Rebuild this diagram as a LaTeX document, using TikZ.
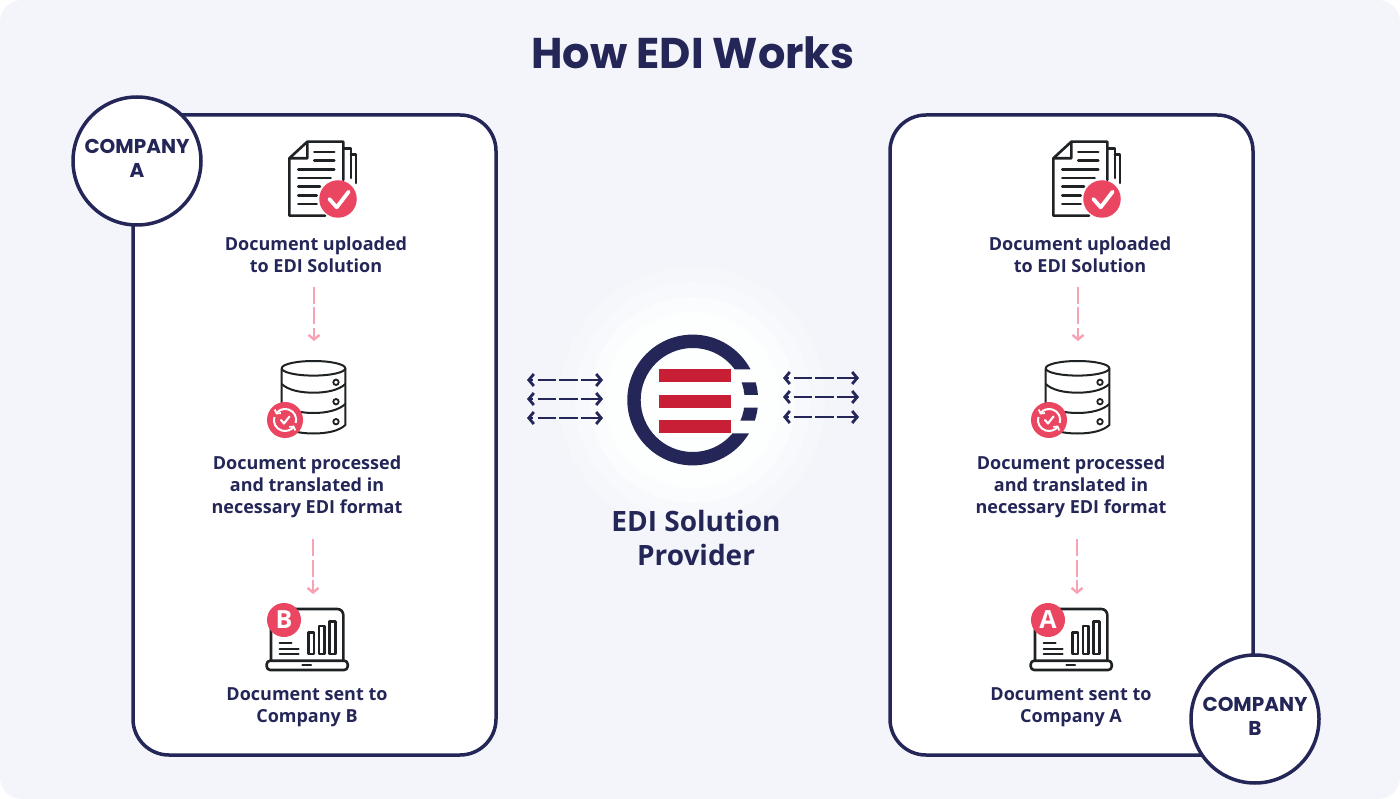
\documentclass[tikz,border=0pt]{standalone}
\usepackage{fontspec}
\setmainfont{Open Sans}
\newfontfamily\titlefont{Poppins}
\usetikzlibrary{arrows.meta}
\definecolor{navy}{HTML}{232657}
\definecolor{ink}{HTML}{1F2224}
\definecolor{badge}{HTML}{EB4661}
\definecolor{pinkline}{HTML}{F7A3B3}
\definecolor{barred}{HTML}{C91F36}
\definecolor{pagebg}{HTML}{F4F5FA}
\tikzset{
  x=1pt,y=-1pt,
  card/.style={draw=navy,line width=3.5pt,fill=white,rounded corners=36pt},
  companycircle/.style={circle,draw=navy,line width=3.5pt,fill=white,minimum size=128pt,inner sep=0pt,align=center,text=navy,font=\titlefont\bfseries\fontsize{20}{24}\selectfont},
  steplabel/.style={align=center,text=navy,font=\bfseries\fontsize{18}{22}\selectfont,inner sep=0pt},
  flowarrow/.style={draw=pinkline,line width=2.4pt,dash pattern=on 17pt off 3.5pt,-{Straight Barb[length=4.5pt,width=11pt,line width=2.4pt]}},
  linkarrow/.style={draw=navy,line width=2.8pt,dash pattern=on 3pt off 4.5pt on 18.5pt off 3pt on 18.5pt off 3pt on 40pt off 0pt,{Straight Barb[length=5pt,width=12pt,line width=2.8pt]}-{Straight Barb[length=5pt,width=12pt,line width=2.8pt]}},
  iconline/.style={draw=ink,line width=2.6pt,line cap=round,line join=round},
  badgedisc/.style={circle,fill=badge,inner sep=0pt},
}
\newcommand{\cardbody}[3]{%
 % document icon
 \draw[iconline] (329.3,148.3)--(351,148.3)--(351,178);
 \draw[iconline] (351,154.3)--(356,154.3)--(356,183);
 \draw[iconline,fill=white] (307.3,141.7)--(343.3,141.7)--(343.3,180)  (325,215.7)--(289.3,215.7)--(289.3,158.3)--(307.3,141.7)--(307.3,158.3)--(289.3,158.3);
 \draw[iconline] (314.3,152)--(334.3,152) (314.3,160.7)--(334.3,160.7) (298.3,169.3)--(334.3,169.3) (298.3,178)--(330.7,178) (298.3,186.7)--(320,186.7) (298.3,195.3)--(316.7,195.3) (298.3,204)--(316.7,204);
 \node[badgedisc,minimum size=37.5pt] (#1docbadge) at (338,199) {};
 \draw[white,line width=3.8pt,line cap=round,line join=round] (329.3,199)--(336.7,207.3)--(348.7,191.7);
 \node[steplabel] (#1up) at (316,254.5) {Document uploaded\\to EDI Solution};
 % database icon
 \draw[ink,line width=2pt] (281.7,368.3) arc[x radius=31.8,y radius=-7.3,start angle=180,end angle=-180];
 \draw[ink,line width=2pt] (281.7,368.3)--(281.7,425) .. controls (288,431) and (300,433.5) .. (313.5,433.5) .. controls (327,433.5) and (339,431) .. (345.3,425)--(345.3,368.3);
 \draw[ink,line width=2pt] (281.7,384) .. controls (288,390) and (300,392.7) .. (313.5,392.7) .. controls (327,392.7) and (339,390) .. (345.3,384);
 \draw[ink,line width=2pt] (281.7,404) .. controls (288,410) and (300,413) .. (313.5,413) .. controls (327,413) and (339,410) .. (345.3,404);
 \foreach \yy in {382.3,401.7,421.7} \draw[ink,line width=1.8pt] (336,\yy) circle[radius=2.7pt];
 \node[badgedisc,minimum size=36pt] (#1dbbadge) at (285,420) {};
 \draw[white,line width=2pt,-{Straight Barb[length=2.5pt,width=7pt,line width=1.8pt]}] (274.4,417) arc[radius=10.8pt,start angle=-197,end angle=-30];
 \draw[white,line width=2pt,-{Straight Barb[length=2.5pt,width=7pt,line width=1.8pt]}] (295.7,423) arc[radius=10.8pt,start angle=-17,end angle=150];
 \draw[white,line width=2.1pt,line cap=round,line join=round] (281,420)--(284,423.5)--(289.5,416.5);
 \node[steplabel] (#1proc) at (307,487) {Document processed\\and translated in\\necessary EDI format};
 % laptop icon
 \draw[iconline,rounded corners=6pt] (271,660.7)--(271,609)--(343.3,609)--(343.3,660.7);
 \draw[iconline,rounded corners=3.5pt] (266.7,660.7)--(347.7,660.7)--(347.7,670)--(266.7,670)--cycle;
 \draw[iconline,line width=2.2pt] (302.5,665)--(311,665);
 \draw[iconline] (308.3,632.3) rectangle (314,654) (319,626) rectangle (324.7,654) (329.7,621.3) rectangle (335.7,654);
 \draw[iconline,line width=2pt] (279.5,643.3)--(291.5,643.3) (279.5,648.7)--(298.7,648.7) (279.5,654)--(298.7,654);
 \node[badgedisc,minimum size=34pt,text=white,font=\bfseries\fontsize{25}{25}\selectfont] (#1lapbadge) at (284,620) {#2};
 \node[steplabel] (#1sent) at (307,707) {Document sent to\\Company #3};
 % flow arrows
 \coordinate (#1a1) at (314,287);
 \coordinate (#1a2) at (314,341);
 \coordinate (#1a3) at (313,539);
 \coordinate (#1a4) at (313,594);
 \draw[flowarrow] (#1a1)--(#1a2);
 \draw[flowarrow] (#1a3)--(#1a4);
}
\begin{document}
\begin{tikzpicture}
\useasboundingbox (0,0) rectangle (1400,799);
\fill[white] (0,0) rectangle (1400,799);
\fill[pagebg,rounded corners=22pt] (0,0) rectangle (1400,799);
\node[text=navy,font=\titlefont\bfseries\fontsize{43}{48}\selectfont,inner sep=0pt] (title) at (693,53) {How EDI Works};
% cards
\draw[card] (133,115) rectangle (496,755);
\draw[card] (890,115) rectangle (1253,755);
\node[companycircle] (companyA) at (137,161) {\raisebox{-15pt}{\begin{tabular}{@{}c@{}}COMPANY\\A\end{tabular}}};
\node[companycircle] (companyB) at (1255,719) {\raisebox{-15pt}{\begin{tabular}{@{}c@{}}COMPANY\\B\end{tabular}}};
\begin{scope}
\cardbody{l}{B}{B}
\end{scope}
\begin{scope}[shift={(764,0)}]
\cardbody{r}{A}{A}
\end{scope}
% glow
\foreach \rr/\oo in {150/.08,133/.2,118/.3,103/.5,88/.7}
  \fill[white,opacity=\oo] (692.5,400) circle[radius=\rr pt];
% logo
\begin{scope}
 \clip (600,300) rectangle (725,500)
       (725,300) rectangle (780,369.3)
       (725,382.3) rectangle (780,395)
       (725,407.7) rectangle (780,420.7)
       (725,433.3) rectangle (780,500);
 \fill[navy,even odd rule] (692.7,400) circle[radius=65.4pt] (692.7,400) circle[radius=52pt];
\end{scope}
\fill[barred] (659,369.3) rectangle (730.7,382.3);
\fill[barred] (659,395) rectangle (730.7,407.7);
\fill[barred] (659,420.3) rectangle (730.7,433.3);
\node[align=center,text=navy,font=\bfseries\fontsize{28}{34}\selectfont,inner sep=0pt] (provider) at (696,538) {EDI Solution\\Provider};
% link arrows
\foreach \n/\yy in {1/380,2/399,3/418}{
  \coordinate (la\n) at (527,\yy);
  \coordinate (lb\n) at (603,\yy);
  \draw[linkarrow] (la\n)--(lb\n);
}
\foreach \n/\yy in {1/378,2/397,3/417}{
  \coordinate (ra\n) at (783,\yy);
  \coordinate (rb\n) at (859,\yy);
  \draw[linkarrow] (ra\n)--(rb\n);
}
\end{tikzpicture}
\end{document}
